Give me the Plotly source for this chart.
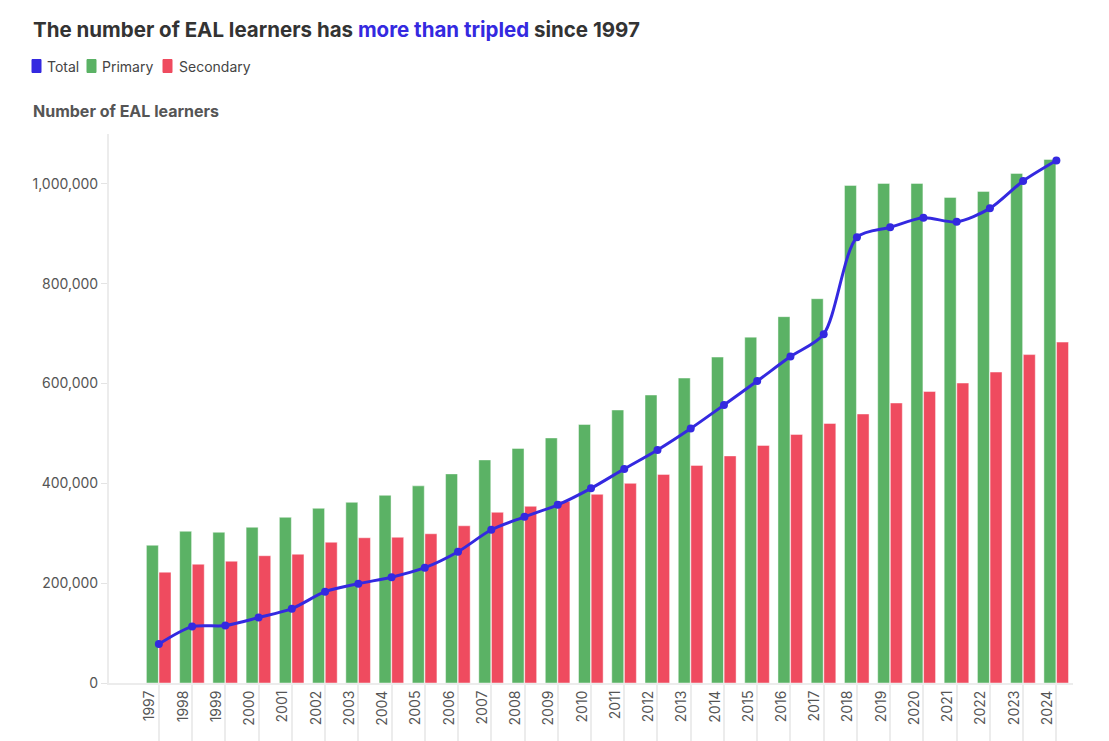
import plotly.graph_objects as go

years = list(range(1997, 2025))
primary = [276000, 304000, 302000, 312000, 332000, 350000, 362000, 376000, 395000, 419000,
           447000, 470000, 491000, 518000, 547000, 577000, 611000, 653000, 693000, 734000,
           770000, 997000, 1001000, 1001000, 973000, 985000, 1021000, 1049000]
secondary = [222000, 238000, 244000, 255000, 258000, 282000, 291000, 292000, 299000, 315000,
             342000, 354000, 364000, 378000, 400000, 418000, 436000, 455000, 476000, 498000,
             520000, 539000, 561000, 584000, 601000, 623000, 658000, 683000]
total = [78000, 113000, 115000, 131000, 149000, 183000, 199000, 212000, 231000, 263000,
         307000, 333000, 357000, 390000, 429000, 467000, 510000, 557000, 605000, 654000,
         699000, 893000, 913000, 932000, 924000, 951000, 1006000, 1047000]
y_ticks = [0, 200000, 400000, 600000, 800000, 1000000]

W, H = 1109, 741
ML, MR, MT, MB = 109, 36, 134, 58
PW, PH = W - ML - MR, H - MT - MB

BLUE = "#3429e0"
GREEN = "#5bb265"
RED = "#ef4b5f"
FONT = "Inter"


def px_x(x):
    return (x - ML) / PW


def px_y(y):
    return 1 + (MT - y) / PH


fig = go.Figure()
fig.add_trace(go.Bar(x=years, y=primary, name="Primary",
                     marker=dict(color=GREEN, line=dict(color="rgba(255,255,255,0.45)", width=1)),
                     width=0.36, offset=-0.375, showlegend=False))
fig.add_trace(go.Bar(x=years, y=secondary, name="Secondary",
                     marker=dict(color=RED, line=dict(color="rgba(255,255,255,0.45)", width=1)),
                     width=0.36, offset=0.005, showlegend=False))
fig.add_trace(go.Scatter(x=years, y=total, name="Total", mode="lines+markers",
                         line=dict(color=BLUE, width=3, shape="spline", smoothing=0.8),
                         marker=dict(color=BLUE, size=8), showlegend=False))

# legend (drawn manually: rounded swatches + labels)
legend_items = [("Total", BLUE, 32, 45), ("Primary", GREEN, 87, 100), ("Secondary", RED, 163, 177)]
shapes = []
annotations = []
for label, col, sx, tx in legend_items:
    x0, x1 = px_x(sx), px_x(sx + 9)
    y0, y1 = px_y(72.5), px_y(59.5)
    shapes.append(dict(type="rect", xref="paper", yref="paper", x0=x0, x1=x1, y0=y0, y1=y1,
                       fillcolor=col, line=dict(color=col, width=1), layer="above"))
    annotations.append(dict(xref="paper", yref="paper", x=px_x(tx), y=px_y(66), xanchor="left",
                            yanchor="middle", showarrow=False, text=label,
                            font=dict(family=FONT, size=14, color="#444444")))

annotations += [
    dict(xref="paper", yref="paper", x=px_x(31), y=px_y(30), xanchor="left", yanchor="middle", showarrow=False,
         text="<b>The number of EAL learners has <span style='color:%s'>more than tripled</span> since 1997</b>" % BLUE,
         font=dict(family=FONT, size=20.5, color="#333333")),
    dict(xref="paper", yref="paper", x=px_x(31), y=px_y(111), xanchor="left", yanchor="middle", showarrow=False,
         text="<b>Number of EAL learners</b>", font=dict(family=FONT, size=16, color="#555555")),
]

fig.update_layout(
    width=W, height=H,
    margin=dict(l=ML, r=MR, t=MT, b=MB, autoexpand=False),
    paper_bgcolor="white", plot_bgcolor="white",
    barmode="overlay",
    font=dict(family=FONT, color="#555555", size=14),
    xaxis=dict(range=[1995.5, 2024.5], tickmode="array", tickvals=years, ticktext=[str(y) for y in years],
               tickangle=-90, ticks="outside", ticklen=60, tickcolor="#ececec", tickwidth=2,
               showgrid=False, zeroline=False, showline=True, linecolor="#ececec", linewidth=2,
               ticklabelstandoff=-60, ticklabelshift=-9, tickfont=dict(family=FONT, size=14, color="#555555")),
    yaxis=dict(range=[0, 1100000], tickmode="array", tickvals=y_ticks, tickformat=",d",
               ticks="outside", ticklen=6, tickcolor="#e4e4e4", tickwidth=1,
               showgrid=False, zeroline=False, showline=True, linecolor="#ececec", linewidth=2,
               tickfont=dict(family=FONT, size=14, color="#555555")),
    shapes=shapes,
    annotations=annotations,
)

fig.write_html("out.html")
